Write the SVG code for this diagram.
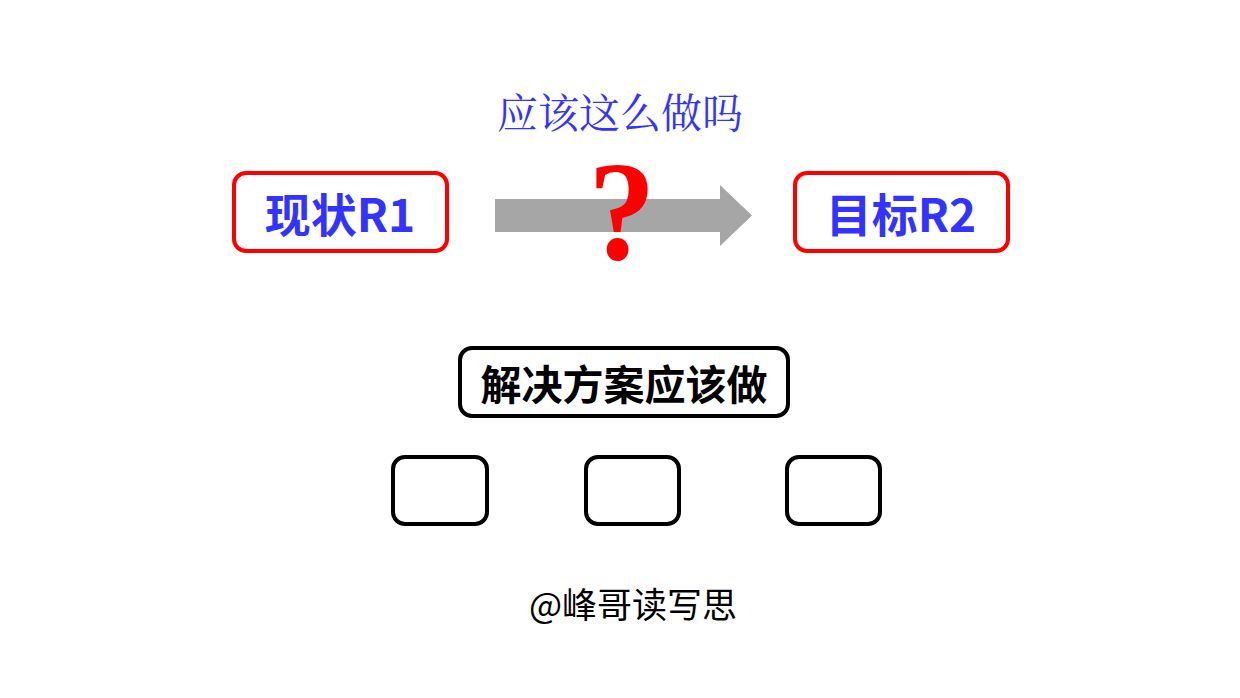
<svg xmlns="http://www.w3.org/2000/svg" width="1240" height="698" viewBox="0 0 1240 698">
<style>
.rbox{fill:#fff;stroke:#ff0000;stroke-width:4}
.kbox{fill:#fff;stroke:#000;stroke-width:4}
.bt{font-family:"Noto Sans CJK SC","Liberation Sans",sans-serif;font-weight:bold;fill:#3333ff;text-anchor:middle;dominant-baseline:central}
.kt{font-family:"Noto Sans CJK SC","Liberation Sans",sans-serif;font-weight:bold;fill:#000;text-anchor:middle;dominant-baseline:central}
</style>
<rect width="1240" height="698" fill="#fff"/>
<text x="620" y="110" font-family="'Noto Serif CJK SC','Noto Sans CJK SC',serif" font-size="41" fill="#3333ff" text-anchor="middle" dominant-baseline="central">应该这么做吗</text>
<g id="connectors">
<polygon points="495,199 720,199 720,185 752,215.5 720,246 720,232 495,232" fill="#a6a6a6"/>
</g>
<text transform="translate(622,259) scale(0.95,1)" font-family="'Liberation Serif',serif" font-weight="bold" font-size="142" fill="#ff0000" text-anchor="middle">?</text>
<g id="n1">
<rect class="rbox" x="234" y="173" width="213" height="78" rx="12"/>
<text class="bt" x="340" y="212" font-size="46">现状R1</text>
</g>
<g id="n2">
<rect class="rbox" x="795" y="173" width="213" height="78" rx="12"/>
<text class="bt" x="901" y="212" font-size="46">目标R2</text>
</g>
<g id="n3">
<rect class="kbox" x="460" y="348" width="328" height="68" rx="12"/>
<text class="kt" x="624" y="382" font-size="41">解决方案应该做</text>
</g>
<g id="n4"><rect class="kbox" x="393" y="457" width="94" height="67" rx="12"/></g>
<g id="n5"><rect class="kbox" x="586" y="457" width="93" height="67" rx="12"/></g>
<g id="n6"><rect class="kbox" x="787" y="457" width="93" height="67" rx="12"/></g>
<text x="633" y="602" font-family="'Noto Sans CJK SC','Liberation Sans',sans-serif" font-size="35" fill="#000" text-anchor="middle" dominant-baseline="central">@峰哥读写思</text>
</svg>
